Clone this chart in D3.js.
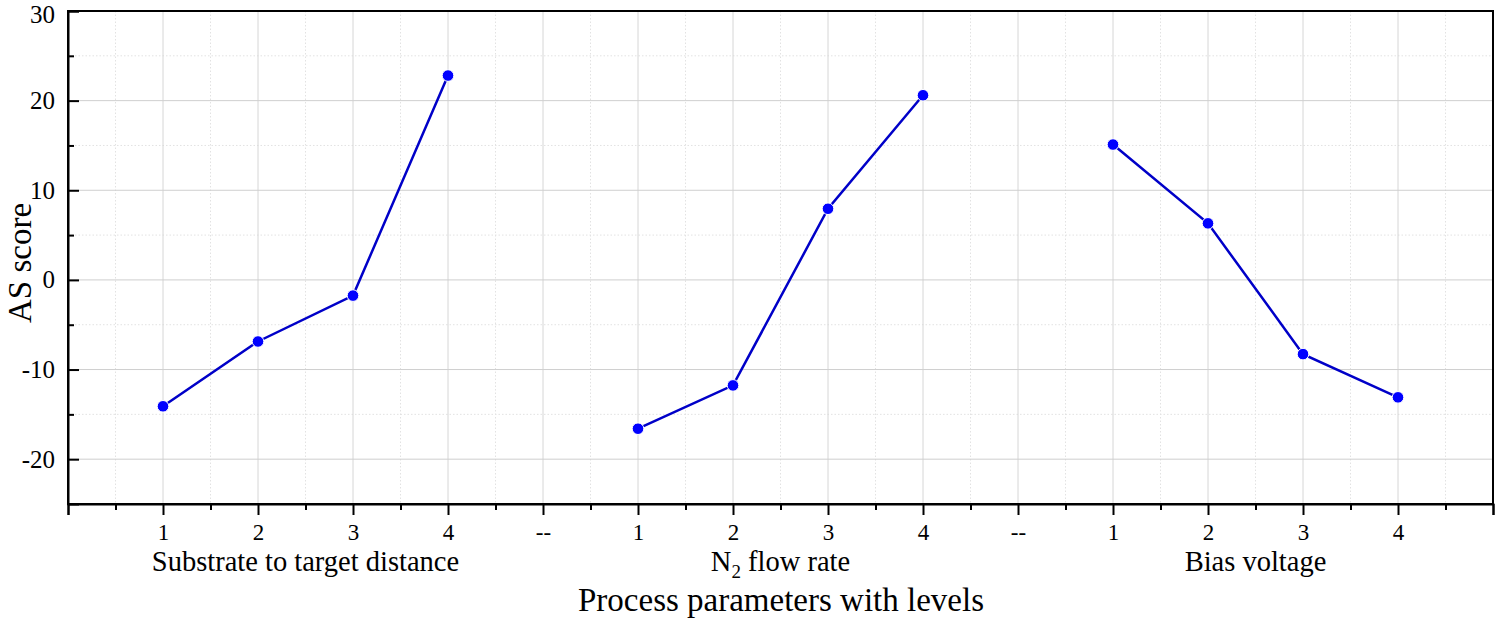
<!DOCTYPE html>
<html><head><meta charset="utf-8">
<script src="https://cdn.jsdelivr.net/npm/d3@7"></script>
<style>body{margin:0;background:#fff}svg{display:block}text{font-family:"Liberation Serif","Times New Roman",serif;fill:#000}</style>
</head><body>
<svg id="c" width="1496" height="621"></svg>
<script>
const tickLabels = ["", "1","2","3","4","--","1","2","3","4","--","1","2","3","4",""];
const groups = ["Substrate to target distance", "N2 flow rate", "Bias voltage"];
const groupCenters = [2.5, 7.5, 12.5];
const seriesPositions = [[1,2,3,4],[6,7,8,9],[11,12,13,14]];
const seriesValues = [
  [-14.1, -6.87, -1.75, 22.8],
  [-16.6, -11.77, 7.94, 20.6],
  [15.1, 6.31, -8.28, -13.1]
];
const yTicks = [-20,-10,0,10,20,30];
const yMinor = [-15,-5,5,15,25];

const svg = d3.select("#c");
const L=68, R=1493, T=11, B=504;
const x = d3.scaleLinear().domain([0,15]).range([L,R]);
const y = d3.scaleLinear().domain([-25,30]).range([B,T]);

const majX = d3.range(1,15), minX = d3.range(0.5,15,1);
// grid
const g = svg.append("g");
g.selectAll(".gmx").data(minX).join("line").attr("x1",d=>x(d)).attr("x2",d=>x(d)).attr("y1",T).attr("y2",B)
  .attr("stroke","#e2e2e2").attr("stroke-width",1).attr("stroke-dasharray","1.5,2");
g.selectAll(".gmy").data(yMinor).join("line").attr("x1",L).attr("x2",R).attr("y1",d=>y(d)).attr("y2",d=>y(d))
  .attr("stroke","#e2e2e2").attr("stroke-width",1).attr("stroke-dasharray","1.5,2");
g.selectAll(".gx").data(majX).join("line").attr("x1",d=>x(d)).attr("x2",d=>x(d)).attr("y1",T).attr("y2",B)
  .attr("stroke","#d6d6d6").attr("stroke-width",1);
g.selectAll(".gy").data(yTicks.filter(d=>d<30)).join("line").attr("x1",L).attr("x2",R).attr("y1",d=>y(d)).attr("y2",d=>y(d))
  .attr("stroke","#cfcfcf").attr("stroke-width",1);

// frame
svg.append("rect").attr("x",L).attr("y",T).attr("width",R-L).attr("height",B-T).attr("fill","none").attr("stroke","#000").attr("stroke-width",2);

// bottom axis
const xAxis = d3.axisBottom(x).tickValues(d3.range(0,16)).tickSize(11).tickPadding(6).tickFormat(d=>tickLabels[d]);
const xa = svg.append("g").attr("transform",`translate(0,${B})`).call(xAxis);
xa.attr("font-family",null).attr("font-size",null);
xa.select(".domain").attr("stroke","#000").attr("stroke-width",2);
xa.selectAll(".tick line").attr("stroke","#000").attr("stroke-width",2);
xa.selectAll(".tick text").style("font-size","23px").attr("y",36).attr("dy",null);
const xm = d3.axisBottom(x).tickValues(minX).tickSize(6).tickFormat("");
const xma = svg.append("g").attr("transform",`translate(0,${B})`).call(xm);
xma.select(".domain").remove();
xma.selectAll(".tick line").attr("stroke","#000").attr("stroke-width",2);

// left axis (ticks inward)
const yAxis = d3.axisLeft(y).tickValues(yTicks).tickSize(-11).tickPadding(13).tickFormat(d=>String(d));
const ya = svg.append("g").attr("transform",`translate(${L},0)`).call(yAxis);
ya.attr("font-family",null).attr("font-size",null);
ya.select(".domain").attr("stroke","#000").attr("stroke-width",2);
ya.selectAll(".tick line").attr("stroke","#000").attr("stroke-width",2);
ya.selectAll(".tick text").style("font-size","25px").attr("dy",d=>d===30?"0.47em":"0.32em");
const ym = d3.axisLeft(y).tickValues(yMinor).tickSize(-6).tickFormat("");
const yma = svg.append("g").attr("transform",`translate(${L},0)`).call(ym);
yma.select(".domain").remove();
yma.selectAll(".tick line").attr("stroke","#000").attr("stroke-width",2);

// group labels
groups.forEach((name,i)=>{
  const t = svg.append("text").attr("x",x(groupCenters[i])).attr("y",571).attr("text-anchor","middle").style("font-size","28.5px");
  if (name.startsWith("N2")) {
    t.append("tspan").text("N");
    t.append("tspan").text("2").style("font-size","19px").attr("dy",7);
    t.append("tspan").text(" flow rate").attr("dy",-7);
  } else t.text(name);
});

// axis titles
svg.append("text").attr("x",781).attr("y",611).attr("text-anchor","middle").style("font-size","33px").text("Process parameters with levels");
svg.append("text").attr("transform","translate(31,263) rotate(-90)").attr("text-anchor","middle").style("font-size","33px").text("AS score");

// series
const line = d3.line().x(d=>x(d[0])).y(d=>y(d[1]));
seriesValues.forEach((vals,i)=>{
  const pts = vals.map((v,j)=>[seriesPositions[i][j], v]);
  svg.append("path").datum(pts).attr("d",line).attr("fill","none").attr("stroke","#0000c8").attr("stroke-width",2.5);
  svg.selectAll(null).data(pts).join("circle").attr("cx",d=>x(d[0])).attr("cy",d=>y(d[1])).attr("r",5.8)
    .attr("fill","#0000ff").attr("stroke","#fff").attr("stroke-width",1);
});
</script>
</body></html>
